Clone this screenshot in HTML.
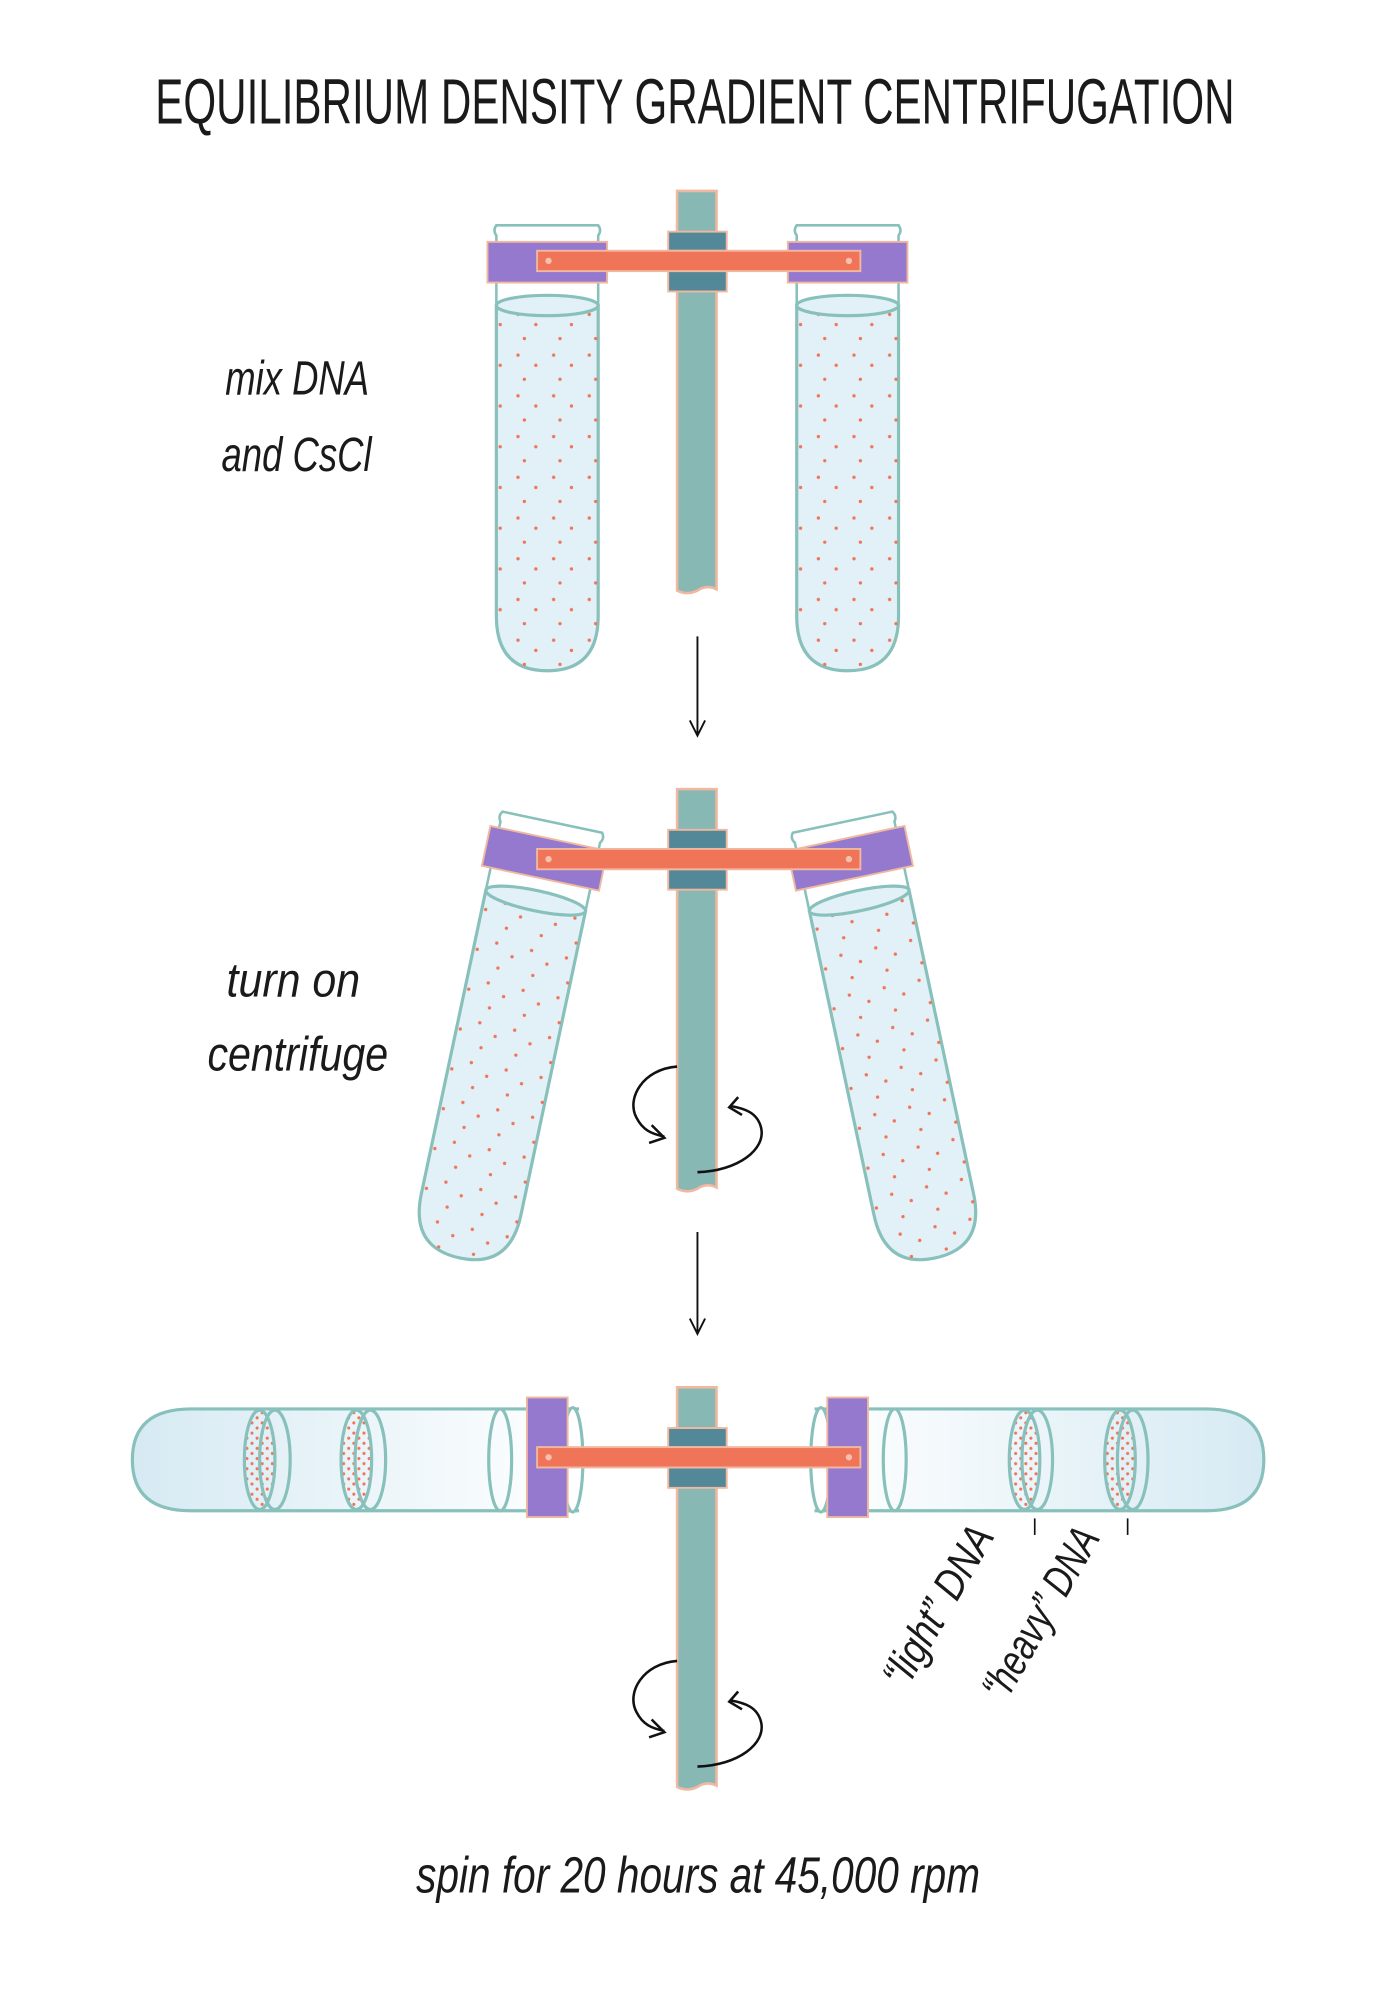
<!DOCTYPE html>
<html><head><meta charset="utf-8"><style>
html,body{margin:0;padding:0;background:#fff;}
svg{display:block;}
text{font-family:"Liberation Sans Narrow","Liberation Sans",sans-serif;fill:#1a1a1a;}
</style></head><body>
<svg width="1400" height="1999" viewBox="0 0 1100 1570.6" xmlns="http://www.w3.org/2000/svg">
<defs>
<pattern id="dots" width="28" height="32" patternUnits="userSpaceOnUse">
<circle cx="5" cy="6" r="1.3" fill="#ef7458"/><circle cx="19" cy="14" r="1.3" fill="#ef7458"/><circle cx="10" cy="25" r="1.3" fill="#ef7458"/>
</pattern>
<pattern id="dense" width="8" height="8" patternUnits="userSpaceOnUse">
<circle cx="2" cy="2" r="1.2" fill="#ef7458"/><circle cx="6" cy="6" r="1.2" fill="#ef7458"/>
</pattern>
<linearGradient id="gl" x1="0" x2="1" y1="0" y2="0"><stop offset="0" stop-color="#d6eaf3"/><stop offset="1" stop-color="#ffffff"/></linearGradient>
<linearGradient id="gr" x1="1" x2="0" y1="0" y2="0"><stop offset="0" stop-color="#d6eaf3"/><stop offset="1" stop-color="#ffffff"/></linearGradient>
<g id="tube">
  <path d="M-40,63 L-40,307 Q-40,350 0,350 Q40,350 40,307 L40,63 Z" fill="#e2f0f7" stroke="#88c0bc" stroke-width="2.5"/>
  <path d="M-40,63 L-40,307 Q-40,350 0,350 Q40,350 40,307 L40,63 Z" fill="url(#dots)"/>
  <ellipse cx="0" cy="63" rx="40" ry="8" fill="#e2f0f7" stroke="#88c0bc" stroke-width="2.5"/>
  <path d="M-40,63 L-40,8 Q-43,4 -40,0 L40,0 Q43,4 40,8 L40,63" fill="none" stroke="#88c0bc" stroke-width="2"/>
  <rect x="-47" y="13" width="94" height="32" fill="#9479cf" stroke="#f0b8a0" stroke-width="1.5"/>
</g>
<g id="rod">
  <path d="M532,0 L563,0 L563,313 Q555,309 548,314 Q540,318 532,314 Z" fill="#88b8b4" stroke="#f0b8a0" stroke-width="2"/>
  <rect x="525" y="32" width="46" height="15" fill="#528898" stroke="#f0b8a0" stroke-width="1.5"/>
  <rect x="525" y="63" width="46" height="16" fill="#528898" stroke="#f0b8a0" stroke-width="1.5"/>
  <rect x="422" y="47" width="254" height="16" fill="#ef7458" stroke="#f0b8a0" stroke-width="1.5"/>
  <circle cx="431" cy="55" r="2.5" fill="#f6c0b0"/><circle cx="667" cy="55" r="2.5" fill="#f6c0b0"/>
</g>
<g id="spin" fill="none" stroke="#111" stroke-width="2">
  <path d="M532,0 C505,2 492,25 500,40 C505,50 512,53 522,55"/>
  <path d="M512,46 L522,56 L510,60"/>
  <path d="M548,83 C580,82 602,65 598,48 C595,36 585,33 574,31"/>
  <path d="M580,24 L573,32 L583,38"/>
</g>
</defs>

<text x="122" y="97" font-size="50" textLength="848" lengthAdjust="spacingAndGlyphs">EQUILIBRIUM DENSITY GRADIENT CENTRIFUGATION</text>

<!-- Section 1 -->
<use href="#tube" x="430" y="177"/>
<use href="#tube" x="666" y="177"/>
<use href="#rod" y="150"/>
<text x="177" y="310" font-size="38" font-style="italic" textLength="113" lengthAdjust="spacingAndGlyphs">mix DNA</text>
<text x="174" y="370" font-size="38" font-style="italic" textLength="118" lengthAdjust="spacingAndGlyphs">and CsCl</text>
<g stroke="#111" stroke-width="1.5" fill="none"><line x1="548" y1="500" x2="548" y2="577"/><path d="M542,566 L548,578 L554,566"/></g>

<!-- Section 2 -->
<g transform="translate(434,646) rotate(12)"><use href="#tube"/></g>
<g transform="translate(662,646) rotate(-12)"><use href="#tube"/></g>
<use href="#rod" y="620"/>
<use href="#spin" y="838"/>
<text x="178" y="783" font-size="38" font-style="italic" textLength="105" lengthAdjust="spacingAndGlyphs">turn on</text>
<text x="163" y="841" font-size="38" font-style="italic" textLength="142" lengthAdjust="spacingAndGlyphs">centrifuge</text>
<g stroke="#111" stroke-width="1.5" fill="none"><line x1="548" y1="968" x2="548" y2="1047"/><path d="M542,1036 L548,1048 L554,1036"/></g>

<!-- Section 3 -->
<g stroke="#88c0bc" stroke-width="2.5">
  <path d="M455,1107 L150,1107 Q104,1107 104,1147 Q104,1187 150,1187 L455,1187" fill="url(#gl)"/>
  <ellipse cx="450" cy="1147" rx="8" ry="41" fill="#fff"/>
  <ellipse cx="204" cy="1147" rx="12" ry="39" fill="url(#dense)"/><ellipse cx="216" cy="1147" rx="12" ry="39" fill="none"/>
  <ellipse cx="280" cy="1147" rx="12" ry="39" fill="url(#dense)"/><ellipse cx="291" cy="1147" rx="12" ry="39" fill="none"/>
  <ellipse cx="393" cy="1147" rx="9" ry="40" fill="none"/>
  <path d="M640,1107 L948,1107 Q993,1107 993,1147 Q993,1187 948,1187 L640,1187" fill="url(#gr)"/>
  <ellipse cx="645" cy="1147" rx="8" ry="41" fill="#fff"/>
  <ellipse cx="805" cy="1147" rx="12" ry="39" fill="url(#dense)"/><ellipse cx="815" cy="1147" rx="12" ry="39" fill="none"/>
  <ellipse cx="880" cy="1147" rx="12" ry="39" fill="url(#dense)"/><ellipse cx="890" cy="1147" rx="12" ry="39" fill="none"/>
  <ellipse cx="703" cy="1147" rx="9" ry="40" fill="none"/>
</g>
<rect x="414" y="1098" width="32" height="94" fill="#9479cf" stroke="#f0b8a0" stroke-width="1.5"/>
<rect x="650" y="1098" width="32" height="94" fill="#9479cf" stroke="#f0b8a0" stroke-width="1.5"/>
<use href="#rod" y="1090"/>
<use href="#spin" y="1305"/>
<g stroke="#111" stroke-width="1.3"><line x1="813" y1="1193" x2="813" y2="1206"/><line x1="886" y1="1193" x2="886" y2="1206"/></g>
<text font-size="34" font-style="italic" transform="translate(712,1328) rotate(-60)" textLength="140" lengthAdjust="spacingAndGlyphs">“light” DNA</text>
<text font-size="34" font-style="italic" transform="translate(790,1338) rotate(-60)" textLength="150" lengthAdjust="spacingAndGlyphs">“heavy” DNA</text>
<text x="327" y="1487" font-size="40" font-style="italic" textLength="443" lengthAdjust="spacingAndGlyphs">spin for 20 hours at 45,000 rpm</text>
</svg>
</body></html>
